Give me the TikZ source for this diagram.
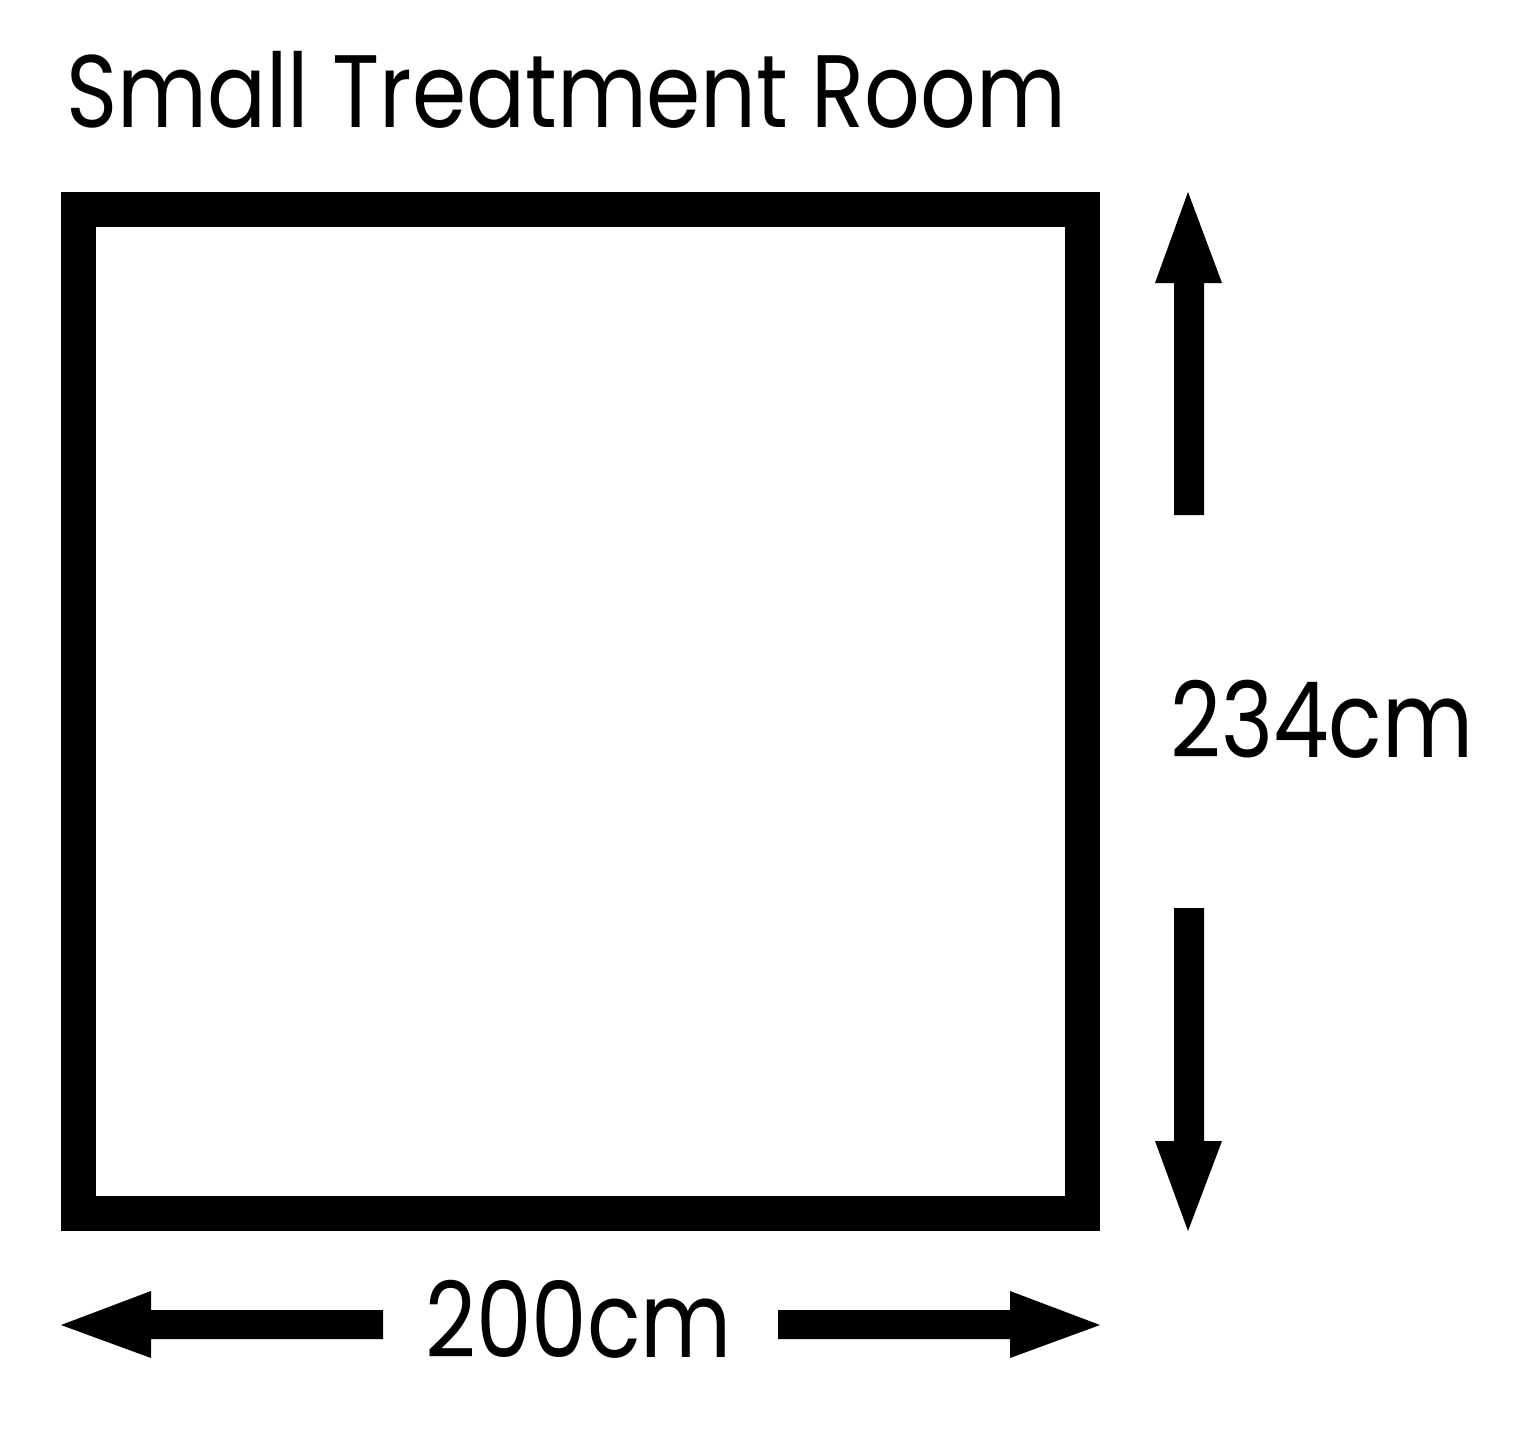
\documentclass[tikz,border=0pt]{standalone}
\usepackage{fontspec}
\setmainfont{Poppins}
\begin{document}
\begin{tikzpicture}[x=1pt,y=-1pt,
  arrowshape/.style={fill=black,draw=none},
  labeltext/.style={inner sep=0pt,font=\fontsize{103}{110}\selectfont}]
\useasboundingbox (0,0) rectangle (1537,1440);
\fill[white] (0,0) rectangle (1537,1440);
% room outline
\node[draw=black,line width=35pt,minimum width=1004pt,minimum height=1004pt,inner sep=0pt] (room) at (580.5,711.5) {};
% title
\node[labeltext,anchor=base west] (title) at (66,127) {\scalebox{0.847}[1]{Small Treatment Room}};
% vertical dimension
\node[labeltext,anchor=base west,font=\fontsize{105}{115}\selectfont] (h) at (1170,757) {\scalebox{0.842}[1]{234cm}};
\fill[arrowshape] (1188,192) -- (1222,283) -- (1204,283) -- (1204,515) -- (1174,515) -- (1174,283) -- (1155,283) -- cycle;
\fill[arrowshape] (1188,1231) -- (1222,1141) -- (1204,1141) -- (1204,908) -- (1174,908) -- (1174,1141) -- (1155,1141) -- cycle;
% horizontal dimension
\node[labeltext,anchor=base,font=\fontsize{105}{115}\selectfont] (w) at (578.5,1357) {\scalebox{0.842}[1]{200cm}};
\fill[arrowshape] (61,1325) -- (151,1291) -- (151,1310) -- (383,1310) -- (383,1339) -- (151,1339) -- (151,1358) -- cycle;
\fill[arrowshape] (1100,1325) -- (1010,1291) -- (1010,1310) -- (778,1310) -- (778,1339) -- (1010,1339) -- (1010,1358) -- cycle;
\end{tikzpicture}
\end{document}
